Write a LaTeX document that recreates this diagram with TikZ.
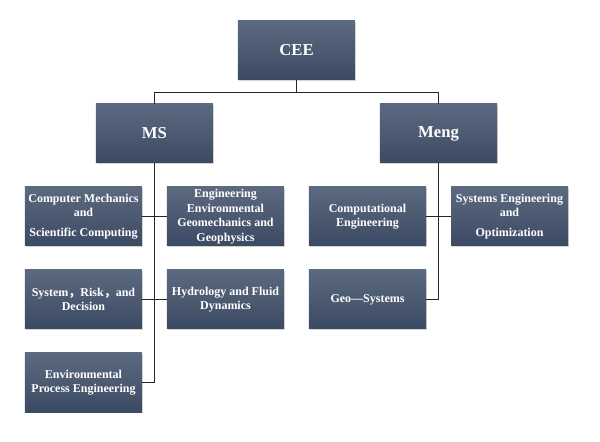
\documentclass[tikz,border=0pt]{standalone}
\usepackage{fontspec}
\setmainfont{Liberation Serif}
\newfontfamily\cjk{Noto Sans CJK SC}
\usepackage{tikz}
\usetikzlibrary{positioning,shadows}

\definecolor{boxtop}{HTML}{5C6A80}
\definecolor{boxbot}{HTML}{3B4A63}

\tikzset{
  unit/.style={rectangle,top color=boxtop,bottom color=boxbot,
    minimum width=87.75pt,minimum height=44.25pt,inner sep=1pt,
    text=white,align=center,font=\bfseries\fontsize{9}{11}\selectfont,
    drop shadow={opacity=0.35,shadow xshift=1pt,shadow yshift=-1pt}},
  head/.style={unit,font=\bfseries\fontsize{12.5}{14}\selectfont},
  link/.style={draw=black!85,line width=0.75pt}
}

\begin{document}
\begin{tikzpicture}[on grid,node distance=62.25pt and 53.25pt]
    \useasboundingbox (-222.375pt,37.875pt) rectangle (227.625pt,-293.625pt);
    \node[head] (cee) at (0,0) {CEE};
    \node[head] (ms) [below left = 62.25pt and 106.5pt of cee] {MS};
    \node[head] (meng) [below right = 62.25pt and 106.5pt of cee] {Meng};
    % MS branch
    \node[unit] (cmsc) [below left = of ms] {Computer Mechanics\\and\\[4pt]Scientific Computing};
    \node[unit] (eegg) [below right = of ms] {Engineering\\Environmental\\Geomechanics and\\Geophysics};
    \node[unit] (srd) [below = of cmsc] {System{\cjk ，}Risk{\cjk ，}and\\Decision};
    \node[unit] (hfd) [below = of eegg] {Hydrology and Fluid\\Dynamics};
    \node[unit] (epe) [below = of srd] {Environmental\\Process Engineering};
    % Meng branch
    \node[unit] (compeng) [below left = of meng] {Computational\\Engineering};
    \node[unit] (sysopt) [below right = of meng] {Systems Engineering\\and\\[4pt]Optimization};
    \node[unit] (geo) [below = of compeng] {Geo---Systems};
    \draw[link] (cee.south) -- ++(0,-9pt) -| (ms.north);
    \draw[link] (cee.south) -- ++(0,-9pt) -| (meng.north);
    \draw[link] (ms.south) |- (epe.east);
    \draw[link] (cmsc.east) -- (eegg.west);
    \draw[link] (srd.east) -- (hfd.west);
    \draw[link] (meng.south) |- (geo.east);
    \draw[link] (compeng.east) -- (sysopt.west);
\end{tikzpicture}
\end{document}
